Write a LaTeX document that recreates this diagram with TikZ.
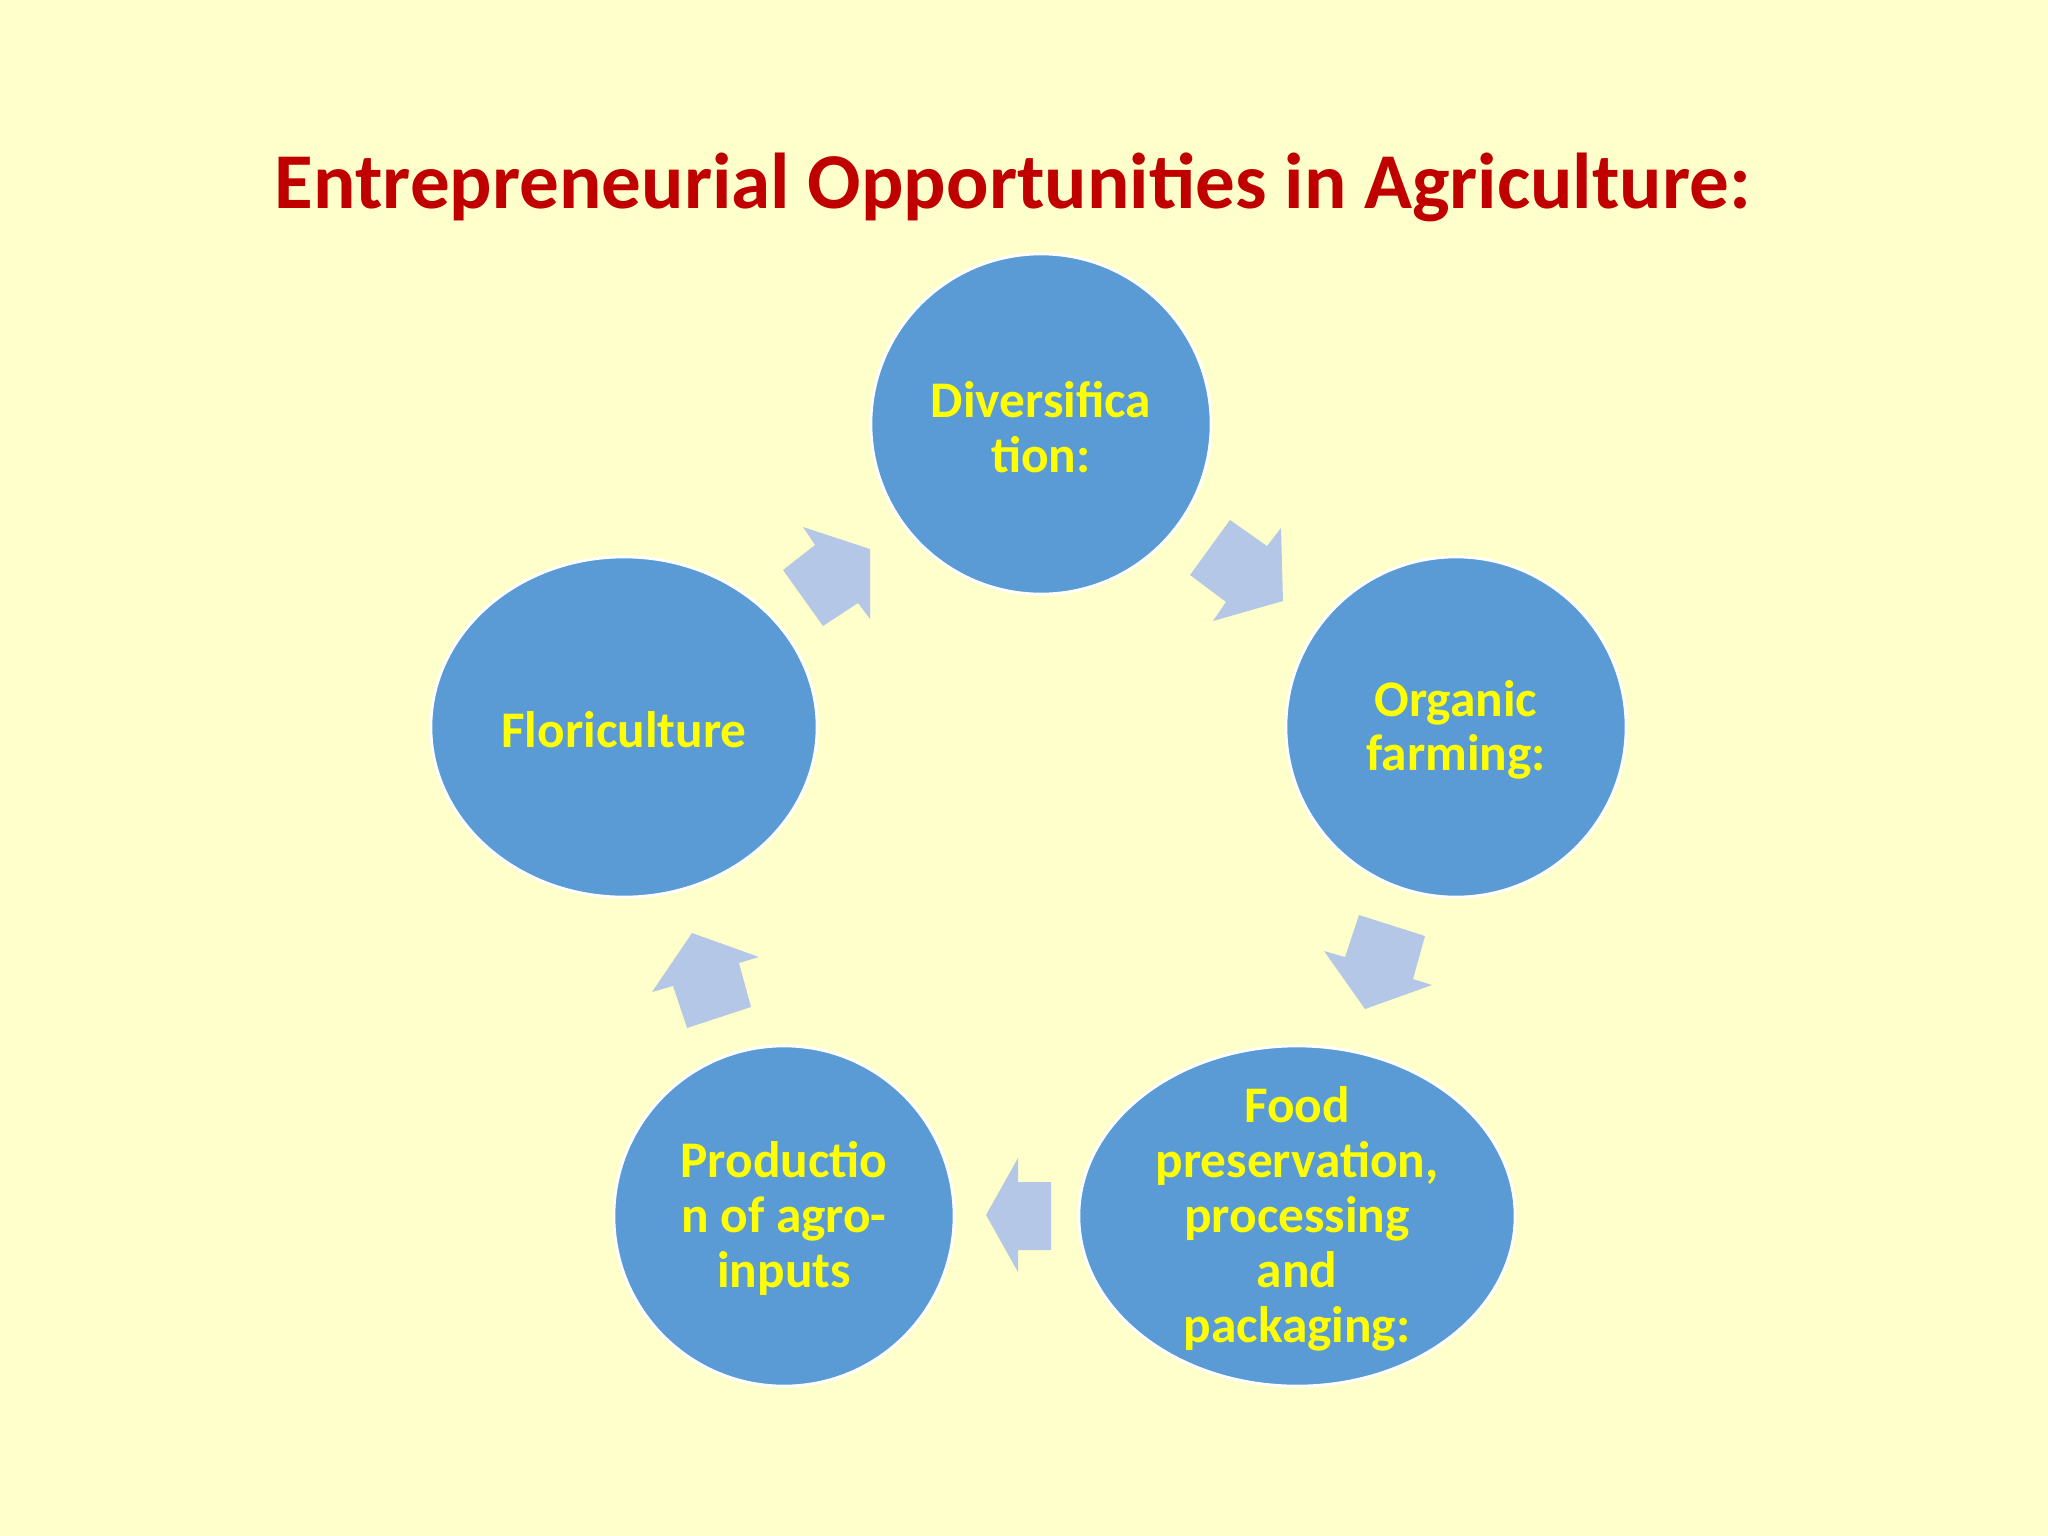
\documentclass[tikz,border=0pt]{standalone}
\usepackage{fontspec}
\setmainfont{Carlito}
\usetikzlibrary{shapes.geometric}
\definecolor{paper}{HTML}{FFFFCC}
\definecolor{bubbleblue}{HTML}{5B9BD5}
\definecolor{arrowblue}{HTML}{B4C7E7}
\definecolor{titlered}{HTML}{C00000}
\definecolor{textyellow}{HTML}{FFFF00}
\tikzstyle{bubble} = [ellipse, draw=white, line width=0.8pt, fill=bubbleblue, minimum height=3.4cm]
\tikzstyle{bubbletext} = [text=textyellow, font=\fontsize{14.6}{15.6}\selectfont\bfseries, align=center, yshift=-0.8pt]
\tikzstyle{blockarrow} = [fill=arrowblue]
\tikzstyle{heading} = [text=titlered, font=\fontsize{22.5}{28}\selectfont\bfseries]

\begin{document}
\begin{tikzpicture}[x=0.01cm, y=-0.01cm]
        \fill[paper] (0,0) rectangle (2048,1536);
        \node [heading, anchor=base] (title) at (1013,208) {Entrepreneurial Opportunities in Agriculture:};

        \node [bubble, minimum width=3.4cm, label={[bubbletext]center:{Diversifica\\tion:}}] (divers) at (1041,424) {};
        \node [bubble, minimum width=3.4cm, label={[bubbletext]center:{Organic\\farming:}}] (organic) at (1456,727) {};
        \node [bubble, minimum width=4.36cm, label={[bubbletext]center:{Food\\preservation,\\processing\\and\\packaging:}}] (food) at (1297,1216) {};
        \node [bubble, minimum width=3.4cm, label={[bubbletext]center:{Productio\\n of agro-\\inputs}}] (agro) at (784,1216) {};
        \node [bubble, minimum width=3.86cm, label={[bubbletext]center:{Floriculture}}] (flori) at (624,727) {};

        % block arrows round the cycle
        \fill [blockarrow] (803,527) -- (870,549) -- (870,619) -- (858,603) -- (823,626) -- (783,570) -- (815,545) -- cycle;
        \fill [blockarrow] (1230,520) -- (1267,546) -- (1281,528) -- (1283,601) -- (1213,621) -- (1226,602) -- (1190,575) -- cycle;
        \fill [blockarrow] (1359,915) -- (1425,936) -- (1413,979) -- (1432,985) -- (1365,1009) -- (1324,951) -- (1345,957) -- cycle;
        \fill [blockarrow] (1018,1158) -- (1018,1182) -- (1051,1182) -- (1051,1250) -- (1018,1250) -- (1018,1272) -- (986,1215) -- cycle;
        \fill [blockarrow] (692,933) -- (759,957) -- (739,963) -- (751,1007) -- (687,1028) -- (673,986) -- (652,992) -- cycle;
    \end{tikzpicture}
\end{document}
